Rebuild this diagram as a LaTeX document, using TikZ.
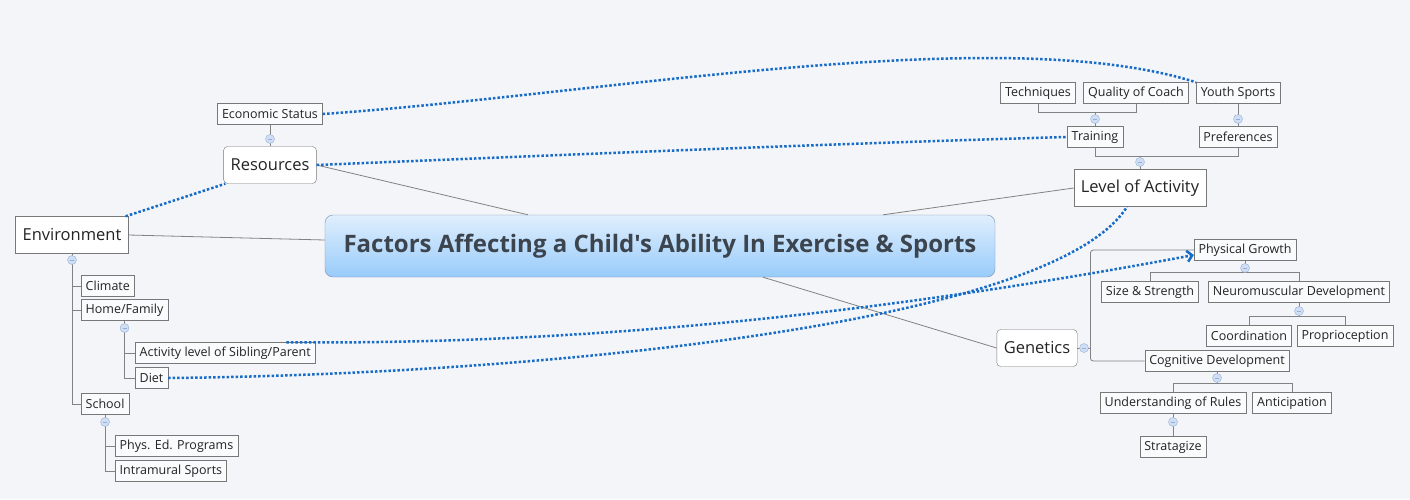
\documentclass[tikz,border=0pt]{standalone}
\usepackage{xcolor}
\usepackage{fontspec}
\setmainfont{Open Sans}
\newfontfamily\titlefont{Open Sans}
\usepackage{tikz}
\usetikzlibrary{shapes,arrows,arrows.meta,positioning,calc}

\definecolor{bgcol}{RGB}{243,245,249}
\definecolor{linkblue}{RGB}{22,108,198}
\definecolor{branchgray}{RGB}{130,130,130}
\definecolor{boxline}{RGB}{120,120,120}
\definecolor{txtcol}{RGB}{35,35,35}
\definecolor{knobfill}{RGB}{208,222,243}
\definecolor{knobline}{RGB}{150,175,215}
\definecolor{topblue}{RGB}{224,239,253}
\definecolor{botblue}{RGB}{152,203,250}
\definecolor{titletxt}{RGB}{60,68,78}

\tikzset{
    leaf/.style={draw=boxline, fill=white!60!bgcol, text=txtcol, font=\fontsize{12.5}{14}\selectfont,
        inner xsep=4.5pt, inner ysep=0pt, minimum height=21pt},
    topic/.style={draw=boxline, fill=white, text=txtcol, font=\fontsize{16.5}{19}\selectfont,
        inner xsep=7pt, inner ysep=0pt, minimum height=37pt},
    rtopic/.style={topic, rounded corners=4pt},
    central/.style={draw=knobline!80!black, rounded corners=8pt, top color=topblue, bottom color=botblue,
        text=titletxt, font=\titlefont\bfseries\fontsize{24}{28}\selectfont,
        minimum width=670pt, minimum height=62pt},
    knob/.style={circle, draw=knobline, fill=knobfill, inner sep=0pt, minimum size=9pt,
        path picture={\draw[knobline, line width=0.7pt] ([xshift=-2pt]path picture bounding box.center)
            -- ([xshift=2pt]path picture bounding box.center);}},
    branch/.style={draw=branchgray, line width=0.8pt},
    rel/.style={draw=linkblue, line width=2.5pt, dash pattern=on 2.5pt off 2pt}
}

\begin{document}
\begin{tikzpicture}[x=1pt, y=-1pt]
    \fill[bgcol] (0,0) rectangle (1410,499);
    \useasboundingbox (0,0) rectangle (1410,499);

    % central topic
    \node[central] (main) at (660,246) {Factors Affecting a Child's Ability In Exercise \& Sports};

    % Environment + Resources
    \node[leaf] (econ) at (270,114) {Economic Status};
    \node[rtopic] (res) at (270,165) {Resources};
    \node[topic] (env) at (72,235) {Environment};
    \node[leaf, anchor=west] (clim) at (81,286) {Climate};
    \node[leaf, anchor=west] (home) at (81,310) {Home/Family};
    \node[leaf, anchor=west] (sib) at (135,353) {Activity level of Sibling/Parent};
    \node[leaf, anchor=west] (diet) at (135,378) {Diet};
    \node[leaf, anchor=west] (school) at (81,404) {School};
    \node[leaf, anchor=west] (phys) at (115,446) {Phys. Ed. Programs};
    \node[leaf, anchor=west] (intra) at (115,471) {Intramural Sports};

    % Level of Activity
    \node[topic] (loa) at (1140,188) {Level of Activity};
    \node[leaf] (train) at (1095,137) {Training};
    \node[leaf] (tech) at (1038,93) {Techniques};
    \node[leaf] (coach) at (1136,93) {Quality of Coach};
    \node[leaf] (youth) at (1238,93) {Youth Sports};
    \node[leaf] (pref) at (1238,137) {Preferences};

    % Genetics
    \node[rtopic] (gen) at (1037,348) {Genetics};
    \node[leaf] (phg) at (1245,250) {Physical Growth};
    \node[leaf] (size) at (1150,292) {Size \& Strength};
    \node[leaf] (neuro) at (1299,292) {Neuromuscular Development};
    \node[leaf] (coord) at (1249,336) {Coordination};
    \node[leaf] (prop) at (1345,336) {Proprioception};
    \node[leaf] (cog) at (1217,361) {Cognitive Development};
    \node[leaf] (rules) at (1173,403) {Understanding of Rules};
    \node[leaf] (antic) at (1292,403) {Anticipation};
    \node[leaf] (strat) at (1173,447) {Stratagize};

    % main branches
    \draw[branch] (env.east) -- ([yshift=6pt]main.west);
    \draw[branch] (res.east) -- ([xshift=-132pt]main.north);
    \draw[branch] (loa.west) -- ([xshift=223pt]main.north);
    \draw[branch] (gen.west) -- ([xshift=103pt]main.south);

    % sub trees
    \draw[branch] (econ.south) -- (res.north);
    \draw[branch] (env.south) -- (env.south |- school.west) -- (school.west);
    \draw[branch] (env.south |- clim.west) -- (clim.west);
    \draw[branch] (env.south |- home.west) -- (home.west);
    \draw[branch] (home.south) -- (home.south |- diet.west) -- (diet.west);
    \draw[branch] (home.south |- sib.west) -- (sib.west);
    \draw[branch] (school.south) -- (school.south |- intra.west) -- (intra.west);
    \draw[branch] (school.south |- phys.west) -- (phys.west);

    \draw[branch] (loa.north) -- ++(0,-13);
    \draw[branch] (train.south) -- ++(0,9) -| (pref.south);
    \draw[branch] (train.north) -- ++(0,-14);
    \draw[branch] (tech.south) -- ++(0,9) -| (coach.south);
    \draw[branch] (youth.south) -- (pref.north);

    \draw[branch, rounded corners=3pt] (phg.west) -| ([xshift=13pt]gen.east) |- (cog.west);
    \draw[branch] (gen.east) -- ++(13,0);
    \draw[branch] (phg.south) -- ++(0,12);
    \draw[branch] (size.north) -- ++(0,-9) -| (neuro.north);
    \draw[branch] (neuro.south) -- ++(0,14);
    \draw[branch] (coord.north) -- ++(0,-9) -| (prop.north);
    \draw[branch] (cog.south) -- ++(0,12);
    \draw[branch] (rules.north) -- ++(0,-9) -| (antic.north);
    \draw[branch] (rules.south) -- (strat.north);

    % collapse knobs
    \node[knob] (k-econ) at (270,139) {};
    \node[knob] (k-env) at (72,260) {};
    \node[knob] (k-home) at (home.south |- 0,328) {};
    \node[knob] (k-school) at (school.south |- 0,422) {};
    \node[knob] (k-loa) at (1140,162) {};
    \node[knob] (k-train) at (1095,119) {};
    \node[knob] (k-youth) at (1238,119) {};
    \node[knob] (k-gen) at (1084,348) {};
    \node[knob] (k-phg) at (1245,268) {};
    \node[knob] (k-neuro) at (1299,311) {};
    \node[knob] (k-cog) at (1217,378) {};
    \node[knob] (k-rules) at (1173,422) {};

    % relationships
    \draw[rel] ([xshift=-3pt]env.north east) -- ([xshift=2pt]res.south west);
    \draw[rel] (res.east) .. controls (560,155) and (820,144) .. (train.west);
    \draw[rel] (econ.east) .. controls (600,95) and (1000,20) .. (youth.north west);
    \draw[rel, -{Straight Barb[length=5pt, width=11pt]}] ([xshift=-29pt]sib.north east)
        .. controls (600,345) and (900,310) .. ([yshift=-5pt]phg.west);
    \draw[rel] (diet.east) .. controls (500,375) and (1050,330) .. ([xshift=-13pt]loa.south);
\end{tikzpicture}
\end{document}
